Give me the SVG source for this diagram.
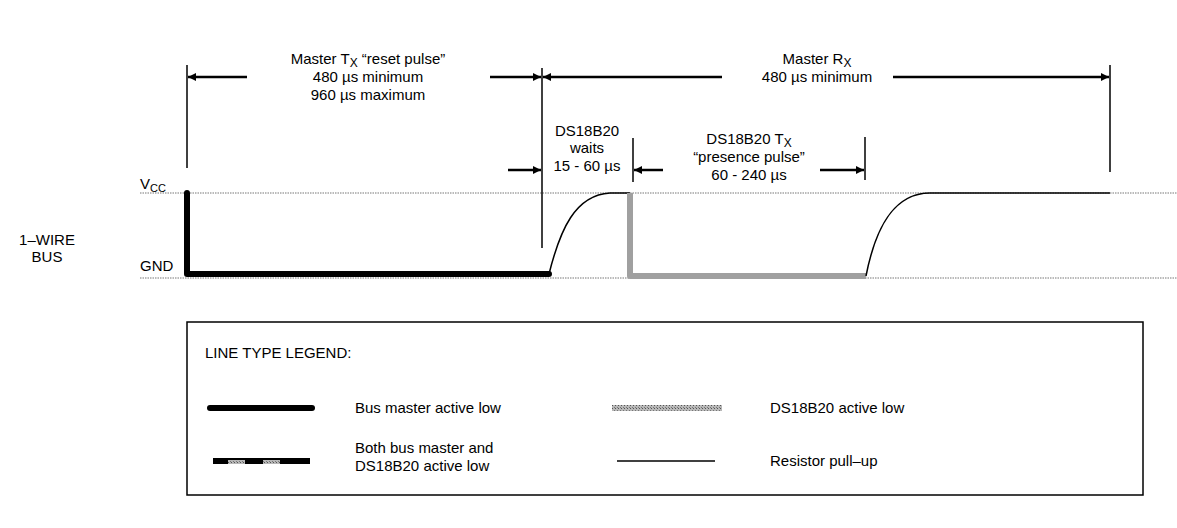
<svg xmlns="http://www.w3.org/2000/svg" width="1177" height="528" viewBox="0 0 1177 528">
<defs>
<marker id="ah" viewBox="0 0 10 10" refX="10" refY="5" markerWidth="10" markerHeight="8" markerUnits="userSpaceOnUse" orient="auto"><path d="M0,0L10,5L0,10z" fill="#000"/></marker>
<pattern id="gr" width="3" height="3" patternUnits="userSpaceOnUse"><rect width="3" height="3" fill="#b8b8b8"/><rect width="1" height="1" fill="#555"/><rect x="2" y="2" width="1" height="1" fill="#777"/></pattern>
</defs>
<style>
text{font-family:"Liberation Sans",Arial,sans-serif;font-size:15px;fill:#000}
.m{text-anchor:middle}
.dim{stroke:#000;stroke-width:1.5;fill:none}
.arr{stroke:#000;stroke-width:2.5;fill:none;marker-end:url(#ah)}
.ref{stroke:#777;stroke-width:1;stroke-dasharray:1.5 1;fill:none}
.thin{stroke:#000;stroke-width:1.5;fill:none}
.blk{stroke:#000;stroke-width:6;fill:none;stroke-linecap:round;stroke-linejoin:round}
.gry{stroke:#a0a0a0;stroke-width:6;fill:none;stroke-linejoin:round}
</style>
<rect width="1177" height="528" fill="#fff"/>
<g id="ref-lines">
<line class="ref" x1="140" y1="193" x2="1177" y2="193"/>
<line class="ref" x1="140" y1="278" x2="1177" y2="278"/>
</g>
<g id="labels">
<text x="140" y="189">V<tspan font-size="11" dy="3">CC</tspan></text>
<text x="140" y="271">GND</text>
<text class="m" x="47" y="245">1–WIRE</text>
<text class="m" x="47" y="262">BUS</text>
<text class="m" x="368" y="64">Master T<tspan font-size="12" dy="3">X</tspan><tspan dy="-3">  “reset pulse”</tspan></text>
<text class="m" x="368" y="82">480 µs minimum</text>
<text class="m" x="368" y="100">960 µs maximum</text>
<text class="m" x="817" y="64">Master R<tspan font-size="12" dy="3">X</tspan></text>
<text class="m" x="817" y="82">480 µs minimum</text>
<text class="m" x="587" y="136">DS18B20</text>
<text class="m" x="587" y="153">waits</text>
<text class="m" x="587" y="171">15 - 60 µs</text>
<text class="m" x="749" y="144">DS18B20 T<tspan font-size="12" dy="3">X</tspan></text>
<text class="m" x="749" y="162">“presence pulse”</text>
<text class="m" x="749" y="180">60 - 240 µs</text>
</g>
<g id="connectors">
<line class="dim" x1="187" y1="65" x2="187" y2="168"/>
<line class="dim" x1="542" y1="68" x2="542" y2="248"/>
<line class="dim" x1="1110" y1="65" x2="1110" y2="172"/>
<line class="dim" x1="633" y1="138" x2="633" y2="182"/>
<line class="dim" x1="865" y1="137" x2="865" y2="180"/>
<line class="arr" x1="247" y1="77" x2="188" y2="77"/>
<line class="arr" x1="490" y1="77" x2="541" y2="77"/>
<line class="arr" x1="722" y1="77" x2="543" y2="77"/>
<line class="arr" x1="893" y1="77" x2="1109" y2="77"/>
<line class="arr" x1="508" y1="170" x2="541" y2="170"/>
<line class="arr" x1="663" y1="170" x2="634" y2="170"/>
<line class="arr" x1="820" y1="170" x2="864" y2="170"/>
</g>
<g id="signal">
<polyline class="blk" points="187,193 187,274 549,274"/>
<path class="thin" d="M549,274 C560,230 575,195 610,193 L630,193"/>
<polyline class="gry" points="630,193 630,276 866,276" stroke="url(#gr)"/>
<path class="thin" d="M866,276 C876,225 895,193 930,193 L1110,193"/>
</g>
<g id="legend">
<rect x="187" y="322" width="956" height="173" fill="none" stroke="#000" stroke-width="1.5"/>
<text x="205" y="358">LINE TYPE LEGEND:</text>
<line class="blk" x1="210" y1="408" x2="312" y2="408"/>
<text x="355" y="413">Bus master active low</text>
<line x1="612" y1="408" x2="722" y2="408" stroke="url(#gr)" stroke-width="6"/>
<text x="770" y="413">DS18B20 active low</text>
<line x1="213" y1="461" x2="310" y2="461" stroke="#000" stroke-width="6"/>
<line x1="228" y1="462" x2="245" y2="462" stroke="url(#gr)" stroke-width="4"/>
<line x1="263" y1="462" x2="280" y2="462" stroke="url(#gr)" stroke-width="4"/>
<text x="355" y="453">Both bus master and</text>
<text x="355" y="471">DS18B20 active low</text>
<line class="thin" x1="617" y1="461" x2="715" y2="461"/>
<text x="770" y="466">Resistor pull–up</text>
</g>
</svg>
